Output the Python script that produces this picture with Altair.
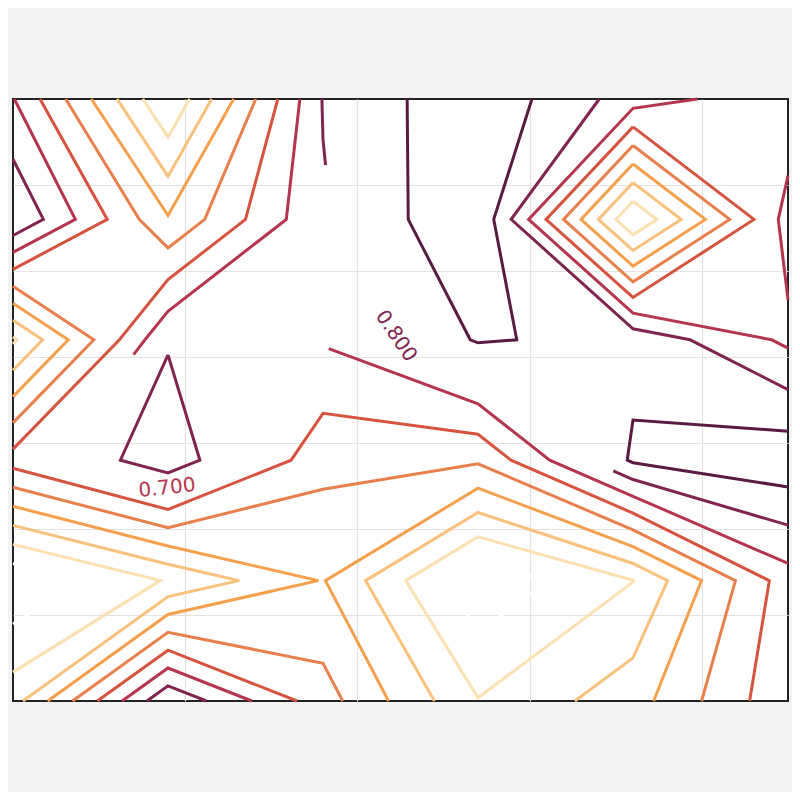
import math
import altair as alt
import pandas as pd

# ---- grid of values (rows listed from top to bottom) ----
x_vals = [0.0, 0.9, 1.8, 2.7, 3.6, 4.5]
y_vals = [3.5, 2.8, 2.1, 1.4, 0.7, 0.0]

z_row_0 = [0.705, 0.102, 0.805, 0.980, 0.750, 0.630]
z_row_1 = [0.895, 0.410, 0.790, 0.990, 0.102, 0.740]
z_row_2 = [0.184, 0.790, 0.710, 0.910, 0.870, 0.680]
z_row_3 = [0.642, 0.870, 0.530, 0.515, 0.915, 0.970]
z_row_4 = [0.010, 0.210, 0.406, 0.020, 0.198, 0.655]
z_row_5 = [0.260, 0.885, 0.543, 0.205, 0.357, 0.680]

levels = [0.1, 0.2, 0.3, 0.4, 0.5, 0.6, 0.7, 0.8, 0.9]
level_colors = ["#ffffff", "#fde0b2", "#f9c17c", "#f4a04c", "#e7804d",
                "#d6543f", "#b5354f", "#7f2550", "#581b41"]

# inline contour labels
label_levels = [0.7, 0.8]
label_texts = ["0.700", "0.800"]
label_x = [0.894, 2.224]
label_y = [1.238, 2.122]
label_angles = [354, 56]
gap_before = [251, 188]
gap_after = [229, 261]

Z = [z_row_0, z_row_1, z_row_2, z_row_3, z_row_4, z_row_5]
NX, NY = len(x_vals), len(y_vals)
W, H = 775, 602
SX, SY = W / 4.5, H / 3.5


def interp(level, p, a, q, b):
    t = (level - a) / (b - a)
    return (p[0] + t * (q[0] - p[0]), p[1] + t * (q[1] - p[1]))


def contour_paths(level):
    pts, segs = {}, []
    for j in range(NY - 1):
        for i in range(NX - 1):
            tl, tr = Z[j][i], Z[j][i + 1]
            bl, br = Z[j + 1][i], Z[j + 1][i + 1]
            ptl = (x_vals[i], y_vals[j]); ptr = (x_vals[i + 1], y_vals[j])
            pbl = (x_vals[i], y_vals[j + 1]); pbr = (x_vals[i + 1], y_vals[j + 1])
            e = {}
            if (tl > level) != (tr > level):
                e['t'] = (('h', i, j), interp(level, ptl, tl, ptr, tr))
            if (tr > level) != (br > level):
                e['r'] = (('v', i + 1, j), interp(level, ptr, tr, pbr, br))
            if (bl > level) != (br > level):
                e['b'] = (('h', i, j + 1), interp(level, pbl, bl, pbr, br))
            if (tl > level) != (bl > level):
                e['l'] = (('v', i, j), interp(level, ptl, tl, pbl, bl))
            for key, pt in e.values():
                pts[key] = pt
            ks = list(e.keys())
            if len(ks) == 2:
                segs.append((e[ks[0]][0], e[ks[1]][0]))
            elif len(ks) == 4:
                center_high = (tl + tr + bl + br) / 4 > level
                if (tl > level) != center_high:
                    pairs = [('t', 'l'), ('r', 'b')]
                else:
                    pairs = [('t', 'r'), ('l', 'b')]
                for a, b in pairs:
                    segs.append((e[a][0], e[b][0]))
    adj = {}
    for idx, (a, b) in enumerate(segs):
        adj.setdefault(a, []).append(idx)
        adj.setdefault(b, []).append(idx)
    used = [False] * len(segs)
    starts = [k for k, v in adj.items() if len(v) == 1] + [k for k, v in adj.items() if len(v) != 1]
    paths = []
    for start in starts:
        for idx in adj[start]:
            if used[idx]:
                continue
            path, cur, cidx = [start], start, idx
            while cidx is not None:
                used[cidx] = True
                a, b = segs[cidx]
                nxt = b if a == cur else a
                path.append(nxt)
                cur, cidx = nxt, None
                for k in adj[cur]:
                    if not used[k]:
                        cidx = k
                        break
            p = [pts[k] for k in path]
            if p[0][0] > p[-1][0]:
                p = p[::-1]
            paths.append(p)
    return paths


def to_px(p):
    return (p[0] * SX, p[1] * SY)


def arc_info(path, lx, ly):
    pp = [to_px(p) for p in path]
    cum = [0.0]
    for k in range(1, len(pp)):
        cum.append(cum[-1] + math.dist(pp[k - 1], pp[k]))
    L = to_px((lx, ly))
    best = (float('inf'), 0.0)
    for k in range(len(pp) - 1):
        ax, ay = pp[k]; bx, by = pp[k + 1]
        dx, dy = bx - ax, by - ay
        s2 = dx * dx + dy * dy
        t = 0.0 if s2 == 0 else max(0.0, min(1.0, ((L[0] - ax) * dx + (L[1] - ay) * dy) / s2))
        d = math.hypot(ax + t * dx - L[0], ay + t * dy - L[1])
        if d < best[0]:
            best = (d, cum[k] + t * math.sqrt(s2))
    return best, cum


def point_at(path, cum, s):
    for k in range(len(cum) - 1):
        if cum[k] <= s <= cum[k + 1]:
            seg = cum[k + 1] - cum[k]
            t = 0 if seg == 0 else (s - cum[k]) / seg
            a, b = path[k], path[k + 1]
            return (a[0] + t * (b[0] - a[0]), a[1] + t * (b[1] - a[1]))
    return path[-1]


rows = []
pid = 0
for li, lev in enumerate(levels):
    paths = contour_paths(lev)
    if lev in label_levels:
        n = label_levels.index(lev)
        infos = [arc_info(p, label_x[n], label_y[n]) for p in paths]
        kbest = min(range(len(paths)), key=lambda k: infos[k][0][0])
        (d, s0), cum = infos[kbest]
        p = paths[kbest]
        s1, s2 = s0 - gap_before[n], s0 + gap_after[n]
        pieces = []
        if s1 > 0:
            pieces.append([p[k] for k in range(len(p)) if cum[k] < s1] + [point_at(p, cum, s1)])
        if s2 < cum[-1]:
            pieces.append([point_at(p, cum, s2)] + [p[k] for k in range(len(p)) if cum[k] > s2])
        paths = paths[:kbest] + pieces + paths[kbest + 1:]
    for p in paths:
        pid += 1
        for o, (x, y) in enumerate(p):
            rows.append({"pid": f"p{pid}", "lev": f"{lev:.1f}", "order": o, "x": x, "y": y})

df = pd.DataFrame(rows)

xs = alt.Scale(domain=[0, 4.5], nice=False, zero=False)
ys = alt.Scale(domain=[0, 3.5], nice=False, zero=False)
xa = alt.Axis(values=[1, 2, 3, 4], grid=True, labels=False, ticks=False, domain=False, title=None)
ya = alt.Axis(values=[0.5, 1, 1.5, 2, 2.5, 3], grid=True, labels=False, ticks=False, domain=False, title=None)

lines = alt.Chart(df).mark_line(strokeWidth=3.0, strokeJoin="miter").encode(
    x=alt.X("x:Q", scale=xs, axis=xa),
    y=alt.Y("y:Q", scale=ys, axis=ya),
    color=alt.Color("lev:N", scale=alt.Scale(domain=[f"{l:.1f}" for l in levels], range=level_colors), legend=None),
    detail="pid:N",
    order="order:Q",
)

layers = [lines]
for n, lev in enumerate(label_levels):
    tdf = pd.DataFrame({"x": [label_x[n]], "y": [label_y[n]], "t": [label_texts[n]]})
    col = level_colors[levels.index(lev)]
    layers.append(
        alt.Chart(tdf).mark_text(angle=label_angles[n], color=col, fontSize=20, font="DejaVu Sans",
                                 align="center", baseline="middle").encode(
            x=alt.X("x:Q", scale=xs), y=alt.Y("y:Q", scale=ys), text="t:N")
    )

chart = alt.layer(*layers).properties(
    width=W, height=H, background="#f3f3f3",
    padding={"left": 5, "top": 91, "right": 4, "bottom": 91},
    autosize=alt.AutoSizeParams(type="none"),
).configure_view(stroke="#222222", strokeWidth=2, fill="white").configure_axis(
    gridColor="#e2e2e2", gridWidth=1.2
)

chart.save("out.html", embed_options={"renderer": "svg", "actions": False})
